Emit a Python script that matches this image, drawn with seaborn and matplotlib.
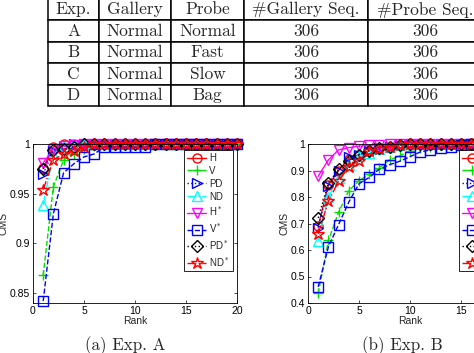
import seaborn as sns
import matplotlib.pyplot as plt
from matplotlib.ticker import FuncFormatter

# ---- table contents
table_header = ['Exp.', 'Gallery', 'Probe', '#Gallery Seq.', '#Probe Seq.']
table_exp = ['A', 'B', 'C', 'D']
table_gallery = ['Normal', 'Normal', 'Normal', 'Normal']
table_probe = ['Normal', 'Fast', 'Slow', 'Bag']
table_gallery_seq = ['306', '306', '306', '306']
table_probe_seq = ['306', '306', '306', '306']

# ---- CMS curves
ranks = list(range(1, 21))
series_labels = ['H', 'V', 'PD', 'ND', 'H$^*$', 'V$^*$', 'PD$^*$', 'ND$^*$']

# Exp. A
a_h = [0.976, 0.997, 1, 1, 1, 1, 1, 1, 1, 1, 1, 1, 1, 1, 1, 1, 1, 1, 1, 1]
a_v = [0.868, 0.957, 0.984, 0.990, 0.995, 0.998, 1, 1, 1, 1, 1, 1, 1, 1, 1, 1, 1, 1, 1, 1]
a_pd = [0.970, 0.993, 0.997, 1, 1, 1, 1, 1, 1, 1, 1, 1, 1, 1, 1, 1, 1, 1, 1, 1]
a_nd = [0.939, 0.990, 0.998, 1, 1, 1, 1, 1, 1, 1, 1, 1, 1, 1, 1, 1, 1, 1, 1, 1]
a_hs = [0.981, 0.995, 0.998, 0.999, 1, 1, 1, 1, 1, 1, 1, 1, 1, 1, 1, 1, 1, 1, 1, 1]
a_vs = [0.842, 0.930, 0.971, 0.980, 0.987, 0.990, 0.997, 0.997, 0.997, 0.997, 0.997, 1, 1, 1, 1, 1, 1, 1, 1, 1]
a_pds = [0.975, 0.994, 0.995, 0.997, 1, 1, 1, 1, 1, 1, 1, 1, 1, 1, 1, 1, 1, 1, 1, 1]
a_nds = [0.954, 0.984, 0.990, 0.993, 0.997, 1, 1, 1, 1, 1, 1, 1, 1, 1, 1, 1, 1, 1, 1, 1]

# Exp. B
b_h = [0.690, 0.845, 0.900, 0.945, 0.960, 0.975, 0.985, 0.990, 0.995, 1, 1, 1, 1, 1, 1, 1, 1, 1, 1, 1]
b_v = [0.436, 0.636, 0.742, 0.824, 0.861, 0.886, 0.910, 0.940, 0.955, 0.975, 0.985, 0.990, 0.995, 0.998, 1, 1, 1, 1, 1, 1]
b_pd = [0.684, 0.840, 0.900, 0.950, 0.960, 0.975, 0.985, 0.990, 0.995, 1, 1, 1, 1, 1, 1, 1, 1, 1, 1, 1]
b_nd = [0.634, 0.800, 0.870, 0.920, 0.955, 0.965, 0.980, 0.990, 0.995, 1, 1, 1, 1, 1, 1, 1, 1, 1, 1, 1]
b_hs = [0.878, 0.940, 0.978, 0.986, 0.992, 0.995, 0.998, 1, 1, 1, 1, 1, 1, 1, 1, 1, 1, 1, 1, 1]
b_vs = [0.461, 0.612, 0.696, 0.781, 0.850, 0.874, 0.905, 0.922, 0.935, 0.952, 0.970, 0.978, 0.985, 0.990, 0.995, 1, 1, 1, 1, 1]
b_pds = [0.721, 0.853, 0.905, 0.934, 0.960, 0.975, 0.985, 0.990, 0.995, 1, 1, 1, 1, 1, 1, 1, 1, 1, 1, 1]
b_nds = [0.661, 0.784, 0.859, 0.915, 0.936, 0.975, 0.980, 0.990, 0.995, 1, 1, 1, 1, 1, 1, 1, 1, 1, 1, 1]

# matlab-ish line styles (explicit rgb, seaborn remaps the letter codes)
colors = ['#ff0000', '#00e000', '#0000ff', '#00ffff', '#ff00ff', '#0000ff', '#000000', '#ff0000']
linestyles = ['-', '--', ':', '-.', '-', '--', ':', '-.']
markers = ['o', '+', '>', '^', 'v', 's', 'D', '*']
msizes = [6.5, 7.5, 6.5, 6.5, 6.5, 6.5, 6.5, 9]

sns.set_theme(style='ticks')
plt.rcParams['font.family'] = ['Liberation Sans', 'DejaVu Sans']
plt.rcParams['mathtext.fontset'] = 'dejavusans'

W, H = 474, 353
fig = plt.figure(figsize=(W / 100, H / 100), dpi=100)


def px_box(x0, y0, x1, y1):
    return [x0 / W, 1 - y1 / H, (x1 - x0) / W, (y1 - y0) / H]


# ---- table
tab_ax = fig.add_axes(px_box(48, -1, 482, 106))
tab_ax.axis('off')
rows = list(zip(table_exp, table_gallery, table_probe, table_gallery_seq, table_probe_seq))
tbl = tab_ax.table(cellText=rows, colLabels=table_header, colWidths=[51, 72, 73, 124, 114],
                   cellLoc='center', bbox=[0, 0, 1, 1])
tbl.auto_set_font_size(False)
for (r, c), cell in tbl.get_celld().items():
    cell.set_linewidth(1.1)
    cell.set_edgecolor('black')
    cell.get_text().set_fontfamily('cmr10')
    cell.get_text().set_fontsize(12.5)


def draw_panel(ax, curves, ylim, yticks):
    for vals, lab, c, ls, mk, ms in zip(curves, series_labels, colors, linestyles, markers, msizes):
        sns.lineplot(x=ranks, y=vals, ax=ax, color=c, linestyle=ls, marker=mk, markersize=ms,
                     markerfacecolor='none', markeredgecolor=c, markeredgewidth=1.0,
                     linewidth=1.0, label=lab, clip_on=False)
    ax.set_xlim(0, 20)
    ax.set_ylim(*ylim)
    ax.set_xticks([0, 5, 10, 15, 20])
    ax.set_yticks(yticks)
    ax.yaxis.set_major_formatter(FuncFormatter(lambda v, p: f'{v:g}'))
    ax.tick_params(direction='in', top=True, right=True, length=2.5, width=0.5,
                   labelsize=7.5, pad=2, colors='black')
    for sp in ax.spines.values():
        sp.set_linewidth(0.6)
        sp.set_color('black')
    ax.set_xlabel('Rank', fontsize=7.5, labelpad=0)
    ax.set_ylabel('CMS', fontsize=7.5, labelpad=1)
    leg = ax.legend(loc='upper right', bbox_to_anchor=(0.98, 0.962), borderaxespad=0,
                    fontsize=7, frameon=True, fancybox=False, handlelength=2.0,
                    handletextpad=0.3, labelspacing=0.3, borderpad=0.3, framealpha=1)
    leg.get_frame().set_edgecolor('black')
    leg.get_frame().set_linewidth(0.6)


ax_a = fig.add_axes(px_box(33, 144, 237, 303))
draw_panel(ax_a, [a_h, a_v, a_pd, a_nd, a_hs, a_vs, a_pds, a_nds], (0.84, 1.0), [0.85, 0.9, 0.95, 1.0])

ax_b = fig.add_axes(px_box(308, 144, 512, 303))
draw_panel(ax_b, [b_h, b_v, b_pd, b_nd, b_hs, b_vs, b_pds, b_nds], (0.4, 1.0),
           [0.4, 0.5, 0.6, 0.7, 0.8, 0.9, 1.0])

fig.text(125 / W, 1 - 346 / H, '(a) Exp. A', family='cmr10', fontsize=12.3, ha='center', va='center')
fig.text(402 / W, 1 - 346 / H, '(b) Exp. B', family='cmr10', fontsize=12.3, ha='center', va='center')

fig.savefig('out.png', dpi=100)
